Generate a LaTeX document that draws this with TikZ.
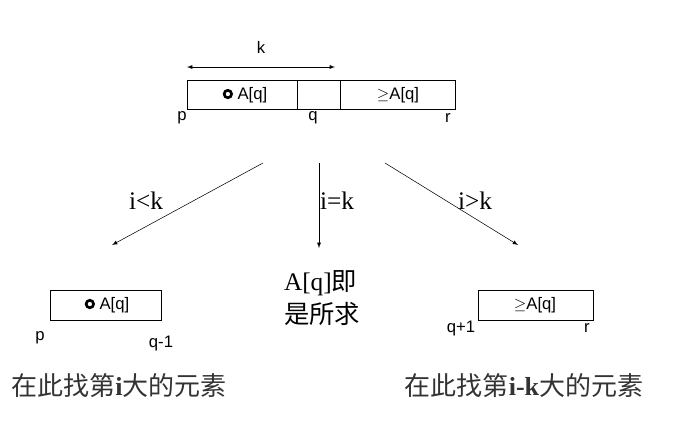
\documentclass[tikz,border=0pt]{standalone}
\usepackage{fontspec}
\setmainfont{Liberation Serif}
\newfontfamily\sans{Liberation Sans}
\newfontfamily\cjk{Noto Sans CJK SC}
\begin{document}
\begin{tikzpicture}[x=0.75pt,y=-0.75pt,
  lab/.style={font=\sans\fontsize{12.5}{14}\selectfont,inner sep=0},
  big/.style={font=\fontsize{19}{22}\selectfont,inner sep=0},
  cn/.style={font=\fontsize{19.5}{22}\selectfont,text=black!80,inner sep=0},
  arr/.style={-latex,thin}]
\newcommand{\ringmark}{\tikz[baseline=-0.6ex]\draw[line width=2pt](0,0) circle (2.8pt);}
\useasboundingbox (0,0) rectangle (681,444);
\draw (187,80) rectangle (455,109);
\draw (297,80) -- (297,109);
\draw (340,80) -- (340,109);
\node[lab] (a1) at (245,95) {\ringmark\ A[q]};
\node[lab] (a2) at (398,95) {$\geq$A[q]};
\coordinate (k1) at (187,67); \coordinate (k2) at (335,67);
\draw[latex-latex,thin] (k1) -- (k2);
\node[lab] (k) at (261,47) {k};
\node[lab] (p) at (182,118) {p};
\node[lab] (q) at (313,118) {q};
\node[lab] (r) at (448,118) {r};
\coordinate (s1) at (263,163); \coordinate (e1) at (112,245);
\coordinate (s2) at (319,163); \coordinate (e2) at (319,248);
\coordinate (s3) at (385,163); \coordinate (e3) at (518,245);
\draw[arr] (s1) -- (e1);
\draw[arr] (s2) -- (e2);
\draw[arr] (s3) -- (e3);
\node[big] (l1) at (146,201) {i<k};
\node[big] (l2) at (337,201) {i=k};
\node[big] (l3) at (475,201) {i>k};
\draw (50,290) rectangle (161,320);
\node[lab] (b1) at (107,305) {\ringmark\ A[q]};
\node[lab] (p2) at (40,338) {p};
\node[lab] (q1) at (161,343) {q-1};
\node[cn] (t1) at (119,386) {\cjk 在此找第\textrm{\textbf{i}}大的元素};
\node[align=left,font=\fontsize{19}{25}\selectfont,inner sep=0] (mid) at (322,298) {A[q]{\cjk 即}\\{\cjk 是所求}};
\draw (478,290) rectangle (593,320);
\node[lab] (b2) at (535,305) {$\geq$A[q]};
\node[lab] (q2) at (461,328) {q+1};
\node[lab] (r2) at (587,328) {r};
\node[cn] (t2) at (524,386) {\cjk 在此找第\textrm{\textbf{i-k}}大的元素};
\end{tikzpicture}
\end{document}
